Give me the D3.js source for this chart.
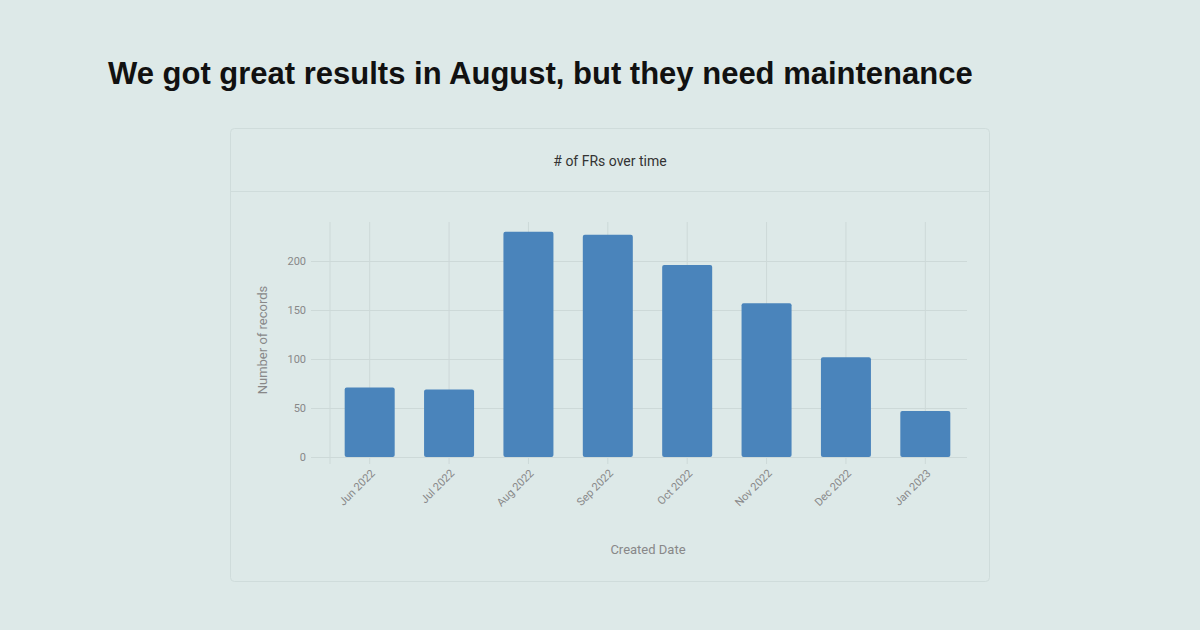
<!DOCTYPE html><html><head><meta charset="utf-8">
<script src="https://cdn.jsdelivr.net/npm/d3@7"></script>
<style>body{margin:0;background:#dde9e8;}</style></head><body>
<svg id="c" width="1200" height="630"></svg>
<script>
const categories=["Jun 2022","Jul 2022","Aug 2022","Sep 2022","Oct 2022","Nov 2022","Dec 2022","Jan 2023"];
const values=[71,69,230,227,196,157,102,47];
const yTicks=[0,50,100,150,200];
const svg=d3.select("#c");
svg.append("rect").attr("width",1200).attr("height",630).attr("fill","#dde9e8");
svg.append("text").attr("x",108).attr("y",84).attr("font-family","Liberation Sans, Arial, sans-serif").attr("font-weight","bold").attr("font-size",31).attr("fill","#111").text("We got great results in August, but they need maintenance");
svg.append("rect").attr("x",230.5).attr("y",128.5).attr("width",759).attr("height",453).attr("rx",4).attr("fill","#dde9e8").attr("stroke","#cfdcdb");
svg.append("line").attr("x1",231).attr("x2",989).attr("y1",191.5).attr("y2",191.5).attr("stroke","#cfdcdb");
svg.append("text").attr("x",610).attr("y",166).attr("text-anchor","middle").attr("font-family","Roboto, sans-serif").attr("font-size",14).attr("fill","#333").text("# of FRs over time");
const x=d3.scaleBand().domain(categories).range([330,965]).paddingInner(0.37).paddingOuter(0.185);
const y=d3.scaleLinear().domain([0,240]).range([457,222]);
const g=svg.append("g");
g.selectAll(".hg").data(yTicks).join("line").attr("x1",311).attr("x2",967).attr("y1",d=>Math.round(y(d))+0.5).attr("y2",d=>Math.round(y(d))+0.5).attr("stroke","#cdd9d8");
const vx=[330].concat(categories.map(c=>x(c)+x.bandwidth()/2));
g.selectAll(".vg").data(vx).join("line").attr("x1",d=>d).attr("x2",d=>d).attr("y1",222).attr("y2",464).attr("stroke","#cdd9d8");
g.selectAll(".bar").data(values).join("rect").attr("x",(d,i)=>x(categories[i])).attr("width",x.bandwidth()).attr("y",d=>y(d)).attr("height",d=>y(0)-y(d)).attr("rx",2).attr("fill","#4a84bb");
g.selectAll(".yl").data(yTicks).join("text").attr("x",306).attr("y",d=>y(d)+4).attr("text-anchor","end").attr("font-family","Roboto, sans-serif").attr("font-size",11).attr("fill","#888").text(d=>d);
g.selectAll(".xl").data(categories).join("text").attr("transform",c=>`translate(${x(c)+x.bandwidth()/2+6},${474}) rotate(-45)`).attr("text-anchor","end").attr("font-family","Roboto, sans-serif").attr("font-size",11).attr("fill","#888").text(c=>c);
svg.append("text").attr("transform","translate(267,340) rotate(-90)").attr("text-anchor","middle").attr("font-family","Roboto, sans-serif").attr("font-size",13).attr("fill","#888").text("Number of records");
svg.append("text").attr("x",648).attr("y",554).attr("text-anchor","middle").attr("font-family","Roboto, sans-serif").attr("font-size",13).attr("fill","#888").text("Created Date");
</script></body></html>
